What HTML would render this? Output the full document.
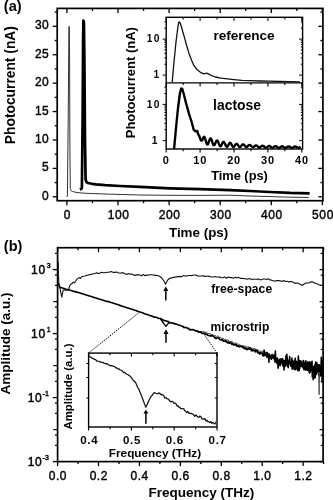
<!DOCTYPE html>
<html><head><meta charset="utf-8"><style>
html,body{margin:0;padding:0;background:#fff;}
body{width:333px;height:500px;overflow:hidden;}
svg{display:block;}
text{font-family:'Liberation Sans', Arial, Helvetica, sans-serif;fill:#000;}
</style></head><body>
<svg width="333" height="500" viewBox="0 0 333 500">
<rect width="333" height="500" fill="#fff"/>
<g stroke="#000" fill="none" stroke-linecap="butt">
<rect x="57.2" y="8.4" width="265.7" height="192.3" stroke-width="1.7"/>
<line x1="66.9" y1="200.7" x2="66.9" y2="205.2" stroke-width="1.3"/>
<line x1="66.9" y1="8.4" x2="66.9" y2="12.9" stroke-width="1.3"/>
<line x1="92.45" y1="200.7" x2="92.45" y2="203.2" stroke-width="1.3"/>
<line x1="92.45" y1="8.4" x2="92.45" y2="10.9" stroke-width="1.3"/>
<line x1="118" y1="200.7" x2="118" y2="205.2" stroke-width="1.3"/>
<line x1="118" y1="8.4" x2="118" y2="12.9" stroke-width="1.3"/>
<line x1="143.55" y1="200.7" x2="143.55" y2="203.2" stroke-width="1.3"/>
<line x1="143.55" y1="8.4" x2="143.55" y2="10.9" stroke-width="1.3"/>
<line x1="169.1" y1="200.7" x2="169.1" y2="205.2" stroke-width="1.3"/>
<line x1="169.1" y1="8.4" x2="169.1" y2="12.9" stroke-width="1.3"/>
<line x1="194.65" y1="200.7" x2="194.65" y2="203.2" stroke-width="1.3"/>
<line x1="194.65" y1="8.4" x2="194.65" y2="10.9" stroke-width="1.3"/>
<line x1="220.2" y1="200.7" x2="220.2" y2="205.2" stroke-width="1.3"/>
<line x1="220.2" y1="8.4" x2="220.2" y2="12.9" stroke-width="1.3"/>
<line x1="245.75" y1="200.7" x2="245.75" y2="203.2" stroke-width="1.3"/>
<line x1="245.75" y1="8.4" x2="245.75" y2="10.9" stroke-width="1.3"/>
<line x1="271.3" y1="200.7" x2="271.3" y2="205.2" stroke-width="1.3"/>
<line x1="271.3" y1="8.4" x2="271.3" y2="12.9" stroke-width="1.3"/>
<line x1="296.85" y1="200.7" x2="296.85" y2="203.2" stroke-width="1.3"/>
<line x1="296.85" y1="8.4" x2="296.85" y2="10.9" stroke-width="1.3"/>
<line x1="322.4" y1="200.7" x2="322.4" y2="205.2" stroke-width="1.3"/>
<line x1="322.4" y1="8.4" x2="322.4" y2="12.9" stroke-width="1.3"/>
<line x1="52.7" y1="196.8" x2="57.2" y2="196.8" stroke-width="1.3"/>
<line x1="318.4" y1="196.8" x2="322.9" y2="196.8" stroke-width="1.3"/>
<line x1="54.7" y1="182.59" x2="57.2" y2="182.59" stroke-width="1.3"/>
<line x1="320.4" y1="182.59" x2="322.9" y2="182.59" stroke-width="1.3"/>
<line x1="52.7" y1="168.39" x2="57.2" y2="168.39" stroke-width="1.3"/>
<line x1="318.4" y1="168.39" x2="322.9" y2="168.39" stroke-width="1.3"/>
<line x1="54.7" y1="154.18" x2="57.2" y2="154.18" stroke-width="1.3"/>
<line x1="320.4" y1="154.18" x2="322.9" y2="154.18" stroke-width="1.3"/>
<line x1="52.7" y1="139.97" x2="57.2" y2="139.97" stroke-width="1.3"/>
<line x1="318.4" y1="139.97" x2="322.9" y2="139.97" stroke-width="1.3"/>
<line x1="54.7" y1="125.76" x2="57.2" y2="125.76" stroke-width="1.3"/>
<line x1="320.4" y1="125.76" x2="322.9" y2="125.76" stroke-width="1.3"/>
<line x1="52.7" y1="111.56" x2="57.2" y2="111.56" stroke-width="1.3"/>
<line x1="318.4" y1="111.56" x2="322.9" y2="111.56" stroke-width="1.3"/>
<line x1="54.7" y1="97.35" x2="57.2" y2="97.35" stroke-width="1.3"/>
<line x1="320.4" y1="97.35" x2="322.9" y2="97.35" stroke-width="1.3"/>
<line x1="52.7" y1="83.14" x2="57.2" y2="83.14" stroke-width="1.3"/>
<line x1="318.4" y1="83.14" x2="322.9" y2="83.14" stroke-width="1.3"/>
<line x1="54.7" y1="68.93" x2="57.2" y2="68.93" stroke-width="1.3"/>
<line x1="320.4" y1="68.93" x2="322.9" y2="68.93" stroke-width="1.3"/>
<line x1="52.7" y1="54.73" x2="57.2" y2="54.73" stroke-width="1.3"/>
<line x1="318.4" y1="54.73" x2="322.9" y2="54.73" stroke-width="1.3"/>
<line x1="54.7" y1="40.52" x2="57.2" y2="40.52" stroke-width="1.3"/>
<line x1="320.4" y1="40.52" x2="322.9" y2="40.52" stroke-width="1.3"/>
<line x1="52.7" y1="26.31" x2="57.2" y2="26.31" stroke-width="1.3"/>
<line x1="318.4" y1="26.31" x2="322.9" y2="26.31" stroke-width="1.3"/>
<line x1="54.7" y1="12.1" x2="57.2" y2="12.1" stroke-width="1.3"/>
<line x1="320.4" y1="12.1" x2="322.9" y2="12.1" stroke-width="1.3"/>
</g>
<polyline points="66.6,197 67.4,196 68.2,120 68.9,27 69.3,26.3 69.6,60 69.9,150 70.3,188.5 71.2,190.8 72.5,191.5 76,192.3 80,192.9 88,193.4 96,193.7 110,194.2 125,194.6 140,195 170,195.3 200,195.4 230,195.2 250,196 270,196.6 290,197.2 308.7,197.5" fill="none" stroke-width="1" stroke-linejoin="round" stroke="#333"/>
<polyline points="79.8,189.4 81.3,189 81.9,187.8 82.6,120 83.1,40 83.4,20.6 83.9,22 84.4,60 85,140 85.6,179.5 86.4,182 88,183 92,183.8 96,184.3 105,185.1 120,186 140,186.9 170,188.3 200,189.2 230,190.1 250,191 270,192 290,192.9 309.6,193.3" fill="none" stroke-width="2.7" stroke-linejoin="round" stroke="#000"/>
<g stroke="#000" fill="none">
<rect x="166.2" y="17.3" width="136.4" height="131.7" stroke-width="1.4"/>
<line x1="166.2" y1="82.9" x2="302.6" y2="82.9" stroke-width="1.4"/>
<line x1="166.2" y1="149" x2="166.2" y2="152.5" stroke-width="1.1"/>
<line x1="166.2" y1="17.3" x2="166.2" y2="20.8" stroke-width="1.1"/>
<line x1="166.2" y1="82.9" x2="166.2" y2="86.4" stroke-width="1.1"/>
<line x1="183.15" y1="149" x2="183.15" y2="151.2" stroke-width="1.1"/>
<line x1="183.15" y1="17.3" x2="183.15" y2="19.5" stroke-width="1.1"/>
<line x1="183.15" y1="82.9" x2="183.15" y2="85.1" stroke-width="1.1"/>
<line x1="200.1" y1="149" x2="200.1" y2="152.5" stroke-width="1.1"/>
<line x1="200.1" y1="17.3" x2="200.1" y2="20.8" stroke-width="1.1"/>
<line x1="200.1" y1="82.9" x2="200.1" y2="86.4" stroke-width="1.1"/>
<line x1="217.05" y1="149" x2="217.05" y2="151.2" stroke-width="1.1"/>
<line x1="217.05" y1="17.3" x2="217.05" y2="19.5" stroke-width="1.1"/>
<line x1="217.05" y1="82.9" x2="217.05" y2="85.1" stroke-width="1.1"/>
<line x1="234" y1="149" x2="234" y2="152.5" stroke-width="1.1"/>
<line x1="234" y1="17.3" x2="234" y2="20.8" stroke-width="1.1"/>
<line x1="234" y1="82.9" x2="234" y2="86.4" stroke-width="1.1"/>
<line x1="250.95" y1="149" x2="250.95" y2="151.2" stroke-width="1.1"/>
<line x1="250.95" y1="17.3" x2="250.95" y2="19.5" stroke-width="1.1"/>
<line x1="250.95" y1="82.9" x2="250.95" y2="85.1" stroke-width="1.1"/>
<line x1="267.9" y1="149" x2="267.9" y2="152.5" stroke-width="1.1"/>
<line x1="267.9" y1="17.3" x2="267.9" y2="20.8" stroke-width="1.1"/>
<line x1="267.9" y1="82.9" x2="267.9" y2="86.4" stroke-width="1.1"/>
<line x1="284.85" y1="149" x2="284.85" y2="151.2" stroke-width="1.1"/>
<line x1="284.85" y1="17.3" x2="284.85" y2="19.5" stroke-width="1.1"/>
<line x1="284.85" y1="82.9" x2="284.85" y2="85.1" stroke-width="1.1"/>
<line x1="301.8" y1="149" x2="301.8" y2="152.5" stroke-width="1.1"/>
<line x1="301.8" y1="17.3" x2="301.8" y2="20.8" stroke-width="1.1"/>
<line x1="301.8" y1="82.9" x2="301.8" y2="86.4" stroke-width="1.1"/>
<line x1="162.7" y1="75.1" x2="166.2" y2="75.1" stroke-width="1"/>
<line x1="299.1" y1="75.1" x2="302.6" y2="75.1" stroke-width="1"/>
<line x1="164.4" y1="64.26" x2="166.2" y2="64.26" stroke-width="1"/>
<line x1="300.8" y1="64.26" x2="302.6" y2="64.26" stroke-width="1"/>
<line x1="164.4" y1="57.92" x2="166.2" y2="57.92" stroke-width="1"/>
<line x1="300.8" y1="57.92" x2="302.6" y2="57.92" stroke-width="1"/>
<line x1="164.4" y1="53.43" x2="166.2" y2="53.43" stroke-width="1"/>
<line x1="300.8" y1="53.43" x2="302.6" y2="53.43" stroke-width="1"/>
<line x1="164.4" y1="49.94" x2="166.2" y2="49.94" stroke-width="1"/>
<line x1="300.8" y1="49.94" x2="302.6" y2="49.94" stroke-width="1"/>
<line x1="164.4" y1="47.09" x2="166.2" y2="47.09" stroke-width="1"/>
<line x1="300.8" y1="47.09" x2="302.6" y2="47.09" stroke-width="1"/>
<line x1="164.4" y1="44.68" x2="166.2" y2="44.68" stroke-width="1"/>
<line x1="300.8" y1="44.68" x2="302.6" y2="44.68" stroke-width="1"/>
<line x1="164.4" y1="42.59" x2="166.2" y2="42.59" stroke-width="1"/>
<line x1="300.8" y1="42.59" x2="302.6" y2="42.59" stroke-width="1"/>
<line x1="164.4" y1="40.75" x2="166.2" y2="40.75" stroke-width="1"/>
<line x1="300.8" y1="40.75" x2="302.6" y2="40.75" stroke-width="1"/>
<line x1="162.7" y1="39.1" x2="166.2" y2="39.1" stroke-width="1"/>
<line x1="299.1" y1="39.1" x2="302.6" y2="39.1" stroke-width="1"/>
<line x1="164.4" y1="28.26" x2="166.2" y2="28.26" stroke-width="1"/>
<line x1="300.8" y1="28.26" x2="302.6" y2="28.26" stroke-width="1"/>
<line x1="164.4" y1="21.92" x2="166.2" y2="21.92" stroke-width="1"/>
<line x1="300.8" y1="21.92" x2="302.6" y2="21.92" stroke-width="1"/>
<line x1="162.7" y1="140.6" x2="166.2" y2="140.6" stroke-width="1"/>
<line x1="299.1" y1="140.6" x2="302.6" y2="140.6" stroke-width="1"/>
<line x1="164.4" y1="129.7" x2="166.2" y2="129.7" stroke-width="1"/>
<line x1="300.8" y1="129.7" x2="302.6" y2="129.7" stroke-width="1"/>
<line x1="164.4" y1="123.33" x2="166.2" y2="123.33" stroke-width="1"/>
<line x1="300.8" y1="123.33" x2="302.6" y2="123.33" stroke-width="1"/>
<line x1="164.4" y1="118.81" x2="166.2" y2="118.81" stroke-width="1"/>
<line x1="300.8" y1="118.81" x2="302.6" y2="118.81" stroke-width="1"/>
<line x1="164.4" y1="115.3" x2="166.2" y2="115.3" stroke-width="1"/>
<line x1="300.8" y1="115.3" x2="302.6" y2="115.3" stroke-width="1"/>
<line x1="164.4" y1="112.43" x2="166.2" y2="112.43" stroke-width="1"/>
<line x1="300.8" y1="112.43" x2="302.6" y2="112.43" stroke-width="1"/>
<line x1="164.4" y1="110.01" x2="166.2" y2="110.01" stroke-width="1"/>
<line x1="300.8" y1="110.01" x2="302.6" y2="110.01" stroke-width="1"/>
<line x1="164.4" y1="107.91" x2="166.2" y2="107.91" stroke-width="1"/>
<line x1="300.8" y1="107.91" x2="302.6" y2="107.91" stroke-width="1"/>
<line x1="164.4" y1="106.06" x2="166.2" y2="106.06" stroke-width="1"/>
<line x1="300.8" y1="106.06" x2="302.6" y2="106.06" stroke-width="1"/>
<line x1="162.7" y1="104.4" x2="166.2" y2="104.4" stroke-width="1"/>
<line x1="299.1" y1="104.4" x2="302.6" y2="104.4" stroke-width="1"/>
<line x1="164.4" y1="93.5" x2="166.2" y2="93.5" stroke-width="1"/>
<line x1="300.8" y1="93.5" x2="302.6" y2="93.5" stroke-width="1"/>
<line x1="164.4" y1="87.13" x2="166.2" y2="87.13" stroke-width="1"/>
<line x1="300.8" y1="87.13" x2="302.6" y2="87.13" stroke-width="1"/>
</g>
<polyline points="172.2,82.2 174,62 176,42 178,26 178.9,21.8 180,22.5 182,29 184.2,36.6 186.5,45 189,53.4 191.5,60 193.8,65.4 197,69.5 201,72.7 204,73.8 206.5,73.2 208.5,73.9 211,75.3 215.4,77 221,78.1 227.5,78.9 234,79.6 241.9,80.3 250,80.6 260,81 270,81.2 280,81.5 290,81.6 300,81.8" fill="none" stroke-width="1.3" stroke-linejoin="round" stroke="#111"/>
<polyline points="174.1,148.8 176,128 178,108 180,93 181.3,88.4 182.5,89.5 184,95 186,103 189,113.8 191.5,121.5 193.8,130 195.5,131.3 197.3,131 198,134 198.6,134.7 199.2,135.81 199.8,137.34 200.4,139.04 201,140.42 201.6,140.72 202.2,140.16 202.8,138.92 203.4,137.53 204,136.69 204.6,137.16 205.2,138.72 205.8,140.87 206.4,142.93 207,144.26 207.6,144.49 208.2,143.61 208.8,141.98 209.4,140.17 210,138.81 210.6,138.35 211.2,138.95 211.8,140.44 212.4,142.35 213,144.09 213.6,145.16 214.2,145.29 214.8,144.51 215.4,143.14 216,141.7 216.6,140.72 217.2,140.53 217.8,141.25 218.4,142.6 219,144.2 219.6,145.59 220.2,146.34 220.8,146.25 221.4,145.39 222,144.08 222.6,142.77 223.2,141.92 223.8,141.82 224.4,142.51 225,143.77 225.6,145.18 226.2,146.32 226.8,146.84 227.4,146.61 228,145.74 228.6,144.55 229.2,143.45 229.8,142.81 230.4,142.83 231,143.51 231.6,144.63 232.2,145.81 232.8,146.68 233.4,147 234,146.7 234.6,145.93 235.2,144.97 235.8,144.17 236.4,143.78 237,143.92 237.6,144.54 238.2,145.4 238.8,146.24 239.4,146.83 240,146.99 240.6,146.69 241.2,146.04 241.8,145.28 242.4,144.65 243,144.37 243.6,144.52 244.2,145.05 244.8,145.77 245.4,146.47 246,146.91 246.6,146.98 247.2,146.67 247.8,146.11 248.4,145.5 249,145.04 249.6,144.88 250.2,145.08 250.8,145.54 251.4,146.15 252,146.71 252.6,147.06 253.2,147.09 253.8,146.82 254.4,146.35 255,145.83 255.6,145.47 256.2,145.38 256.8,145.6 257.4,146.08 258,146.67 258.6,147.19 259.2,147.49 259.8,147.47 260.4,147.15 261,146.65 261.6,146.14 262.2,145.8 262.8,145.74 263.4,145.99 264,146.46 264.6,147 265.2,147.45 265.8,147.66 266.4,147.57 267,147.22 267.6,146.72 268.2,146.25 268.8,145.97 269.4,145.96 270,146.24 270.6,146.71 271.2,147.24 271.8,147.64 272.4,147.79 273,147.66 273.6,147.29 274.2,146.81 274.8,146.38 275.4,146.14 276,146.19 276.6,146.49 277.2,146.97 277.8,147.46 278.4,147.81 279,147.91 279.6,147.74 280.2,147.36 280.8,146.89 281.4,146.49 282,146.3 282.6,146.37 283.2,146.69 283.8,147.14 284.4,147.58 285,147.87 285.6,147.91 286.2,147.7 286.8,147.3 287.4,146.86 288,146.5 288.6,146.36 289.2,146.47 289.8,146.8 290.4,147.24 291,147.65 291.6,147.88 292.2,147.88 292.8,147.65 293.4,147.25 294,146.84 294.6,146.53 295.2,146.44 295.8,146.58 296.4,146.92 297,147.34 297.6,147.7 298.2,147.89 298.8,147.85 299.4,147.6 300,147.21 300.6,146.83" fill="none" stroke-width="2.4" stroke-linejoin="round" stroke="#000"/>
<g stroke="#000" fill="none">
<rect x="57.6" y="247.7" width="265.5" height="213.9" stroke-width="1.7"/>
<line x1="57.6" y1="461.6" x2="57.6" y2="466.1" stroke-width="1.3"/>
<line x1="57.6" y1="247.7" x2="57.6" y2="252.2" stroke-width="1.3"/>
<line x1="78.06" y1="461.6" x2="78.06" y2="464.1" stroke-width="1.3"/>
<line x1="78.06" y1="247.7" x2="78.06" y2="250.2" stroke-width="1.3"/>
<line x1="98.52" y1="461.6" x2="98.52" y2="466.1" stroke-width="1.3"/>
<line x1="98.52" y1="247.7" x2="98.52" y2="252.2" stroke-width="1.3"/>
<line x1="118.98" y1="461.6" x2="118.98" y2="464.1" stroke-width="1.3"/>
<line x1="118.98" y1="247.7" x2="118.98" y2="250.2" stroke-width="1.3"/>
<line x1="139.44" y1="461.6" x2="139.44" y2="466.1" stroke-width="1.3"/>
<line x1="139.44" y1="247.7" x2="139.44" y2="252.2" stroke-width="1.3"/>
<line x1="159.9" y1="461.6" x2="159.9" y2="464.1" stroke-width="1.3"/>
<line x1="159.9" y1="247.7" x2="159.9" y2="250.2" stroke-width="1.3"/>
<line x1="180.36" y1="461.6" x2="180.36" y2="466.1" stroke-width="1.3"/>
<line x1="180.36" y1="247.7" x2="180.36" y2="252.2" stroke-width="1.3"/>
<line x1="200.82" y1="461.6" x2="200.82" y2="464.1" stroke-width="1.3"/>
<line x1="200.82" y1="247.7" x2="200.82" y2="250.2" stroke-width="1.3"/>
<line x1="221.28" y1="461.6" x2="221.28" y2="466.1" stroke-width="1.3"/>
<line x1="221.28" y1="247.7" x2="221.28" y2="252.2" stroke-width="1.3"/>
<line x1="241.74" y1="461.6" x2="241.74" y2="464.1" stroke-width="1.3"/>
<line x1="241.74" y1="247.7" x2="241.74" y2="250.2" stroke-width="1.3"/>
<line x1="262.2" y1="461.6" x2="262.2" y2="466.1" stroke-width="1.3"/>
<line x1="262.2" y1="247.7" x2="262.2" y2="252.2" stroke-width="1.3"/>
<line x1="282.66" y1="461.6" x2="282.66" y2="464.1" stroke-width="1.3"/>
<line x1="282.66" y1="247.7" x2="282.66" y2="250.2" stroke-width="1.3"/>
<line x1="303.12" y1="461.6" x2="303.12" y2="466.1" stroke-width="1.3"/>
<line x1="303.12" y1="247.7" x2="303.12" y2="252.2" stroke-width="1.3"/>
<line x1="323.58" y1="461.6" x2="323.58" y2="464.1" stroke-width="1.3"/>
<line x1="323.58" y1="247.7" x2="323.58" y2="250.2" stroke-width="1.3"/>
<line x1="52.8" y1="461.6" x2="57.6" y2="461.6" stroke-width="1.3"/>
<line x1="319.6" y1="461.6" x2="323.1" y2="461.6" stroke-width="1.3"/>
<line x1="53.4" y1="429.6" x2="57.6" y2="429.6" stroke-width="1.3"/>
<line x1="319.6" y1="429.6" x2="323.1" y2="429.6" stroke-width="1.3"/>
<line x1="55" y1="435.1" x2="57.6" y2="435.1" stroke-width="1.3"/>
<line x1="320.7" y1="435.1" x2="323.1" y2="435.1" stroke-width="1.2"/>
<line x1="55" y1="445.4" x2="57.6" y2="445.4" stroke-width="1.3"/>
<line x1="320.7" y1="445.4" x2="323.1" y2="445.4" stroke-width="1.2"/>
<line x1="52.8" y1="397.6" x2="57.6" y2="397.6" stroke-width="1.3"/>
<line x1="319.6" y1="397.6" x2="323.1" y2="397.6" stroke-width="1.3"/>
<line x1="55" y1="403.1" x2="57.6" y2="403.1" stroke-width="1.3"/>
<line x1="320.7" y1="403.1" x2="323.1" y2="403.1" stroke-width="1.2"/>
<line x1="55" y1="413.4" x2="57.6" y2="413.4" stroke-width="1.3"/>
<line x1="320.7" y1="413.4" x2="323.1" y2="413.4" stroke-width="1.2"/>
<line x1="53.4" y1="365.6" x2="57.6" y2="365.6" stroke-width="1.3"/>
<line x1="319.6" y1="365.6" x2="323.1" y2="365.6" stroke-width="1.3"/>
<line x1="55" y1="371.1" x2="57.6" y2="371.1" stroke-width="1.3"/>
<line x1="320.7" y1="371.1" x2="323.1" y2="371.1" stroke-width="1.2"/>
<line x1="55" y1="381.4" x2="57.6" y2="381.4" stroke-width="1.3"/>
<line x1="320.7" y1="381.4" x2="323.1" y2="381.4" stroke-width="1.2"/>
<line x1="52.8" y1="333.6" x2="57.6" y2="333.6" stroke-width="1.3"/>
<line x1="319.6" y1="333.6" x2="323.1" y2="333.6" stroke-width="1.3"/>
<line x1="55" y1="339.1" x2="57.6" y2="339.1" stroke-width="1.3"/>
<line x1="320.7" y1="339.1" x2="323.1" y2="339.1" stroke-width="1.2"/>
<line x1="55" y1="349.4" x2="57.6" y2="349.4" stroke-width="1.3"/>
<line x1="320.7" y1="349.4" x2="323.1" y2="349.4" stroke-width="1.2"/>
<line x1="53.4" y1="301.6" x2="57.6" y2="301.6" stroke-width="1.3"/>
<line x1="319.6" y1="301.6" x2="323.1" y2="301.6" stroke-width="1.3"/>
<line x1="55" y1="307.1" x2="57.6" y2="307.1" stroke-width="1.3"/>
<line x1="320.7" y1="307.1" x2="323.1" y2="307.1" stroke-width="1.2"/>
<line x1="55" y1="317.4" x2="57.6" y2="317.4" stroke-width="1.3"/>
<line x1="320.7" y1="317.4" x2="323.1" y2="317.4" stroke-width="1.2"/>
<line x1="52.8" y1="269.6" x2="57.6" y2="269.6" stroke-width="1.3"/>
<line x1="319.6" y1="269.6" x2="323.1" y2="269.6" stroke-width="1.3"/>
<line x1="55" y1="275.1" x2="57.6" y2="275.1" stroke-width="1.3"/>
<line x1="320.7" y1="275.1" x2="323.1" y2="275.1" stroke-width="1.2"/>
<line x1="55" y1="285.4" x2="57.6" y2="285.4" stroke-width="1.3"/>
<line x1="320.7" y1="285.4" x2="323.1" y2="285.4" stroke-width="1.2"/>
<line x1="55" y1="253.4" x2="57.6" y2="253.4" stroke-width="1.3"/>
<line x1="320.7" y1="253.4" x2="323.1" y2="253.4" stroke-width="1.2"/>
</g>
<polyline points="58.2,262 58.4,272 58.7,281 59.3,286.5 60.2,289.2 61,293.5 61.8,297.2 62.5,293.5 63.2,290.3 64.5,289.7 66,290.3 68.6,290 69.6,286 70.5,284.5 71.8,283.8 73.2,282 74.5,282.7 76,280.5 77.5,278.6 79,277.6 80.5,278.4 82,276.5 85,276 88,275 91,274.4 93,273.72 95,273.6 96.67,272.87 98.33,273.51 100,273.1 101.67,272.25 103.33,272.82 105,272.6 107,272.19 109,272.2 111,271.56 113,272.35 115,272.4 116.67,271.93 118.33,272.83 120,273.2 121.67,272.7 123.33,272.91 125,273.63 126.67,274.46 128.33,273.51 130,274.3 131.67,273.97 133.33,274.74 135,275.37 136.67,274.89 138.33,274.72 140,275 141.6,275.82 143.2,274.39 144.8,275.75 146.4,274.9 148,275.3 149.75,274.76 151.5,274.74 153.25,275.07 155,275.4 157.2,275.4 159.5,276.3 161.5,277.8 163.3,280 164.6,282.2 165.6,284.2 166.5,282.2 167.7,280 169.3,278.5 171.5,277.9 175,277.1 180,276.4 181.67,276.76 183.33,275.59 185,276.08 186.67,276.02 188.33,275.45 190,275.5 191.67,275.66 193.33,274.97 195,275.05 196.67,275.36 198.33,276.21 200,276 201.67,275.97 203.33,275.87 205,276.39 206.67,276.26 208.33,276.1 210,276.5 211.6,277.07 213.2,277.02 214.8,276.39 216.4,277.02 218,277 219.71,277.13 221.43,277.77 223.14,277.62 224.86,277 226.57,278.2 228.29,276.9 230,277.6 231.71,277.55 233.43,278.18 235.14,277.3 236.86,277.93 238.57,277.29 240.29,278.38 242,278.2 243.83,278.79 245.67,278.65 247.5,279.3 249.33,278.57 251.17,279.35 253,279.2 254.71,279.32 256.43,279.27 258.14,279.04 259.86,279.63 261.57,279.77 263.29,278.99 265,279 266.71,279.49 268.43,278.75 270.14,280.01 271.86,280.15 273.57,280.93 275.29,280.89 277,280.6 278.71,280.44 280.43,280.79 282.14,281.43 283.86,280.58 285.57,281.47 287.29,281.18 289,281.9 290.75,281.56 292.5,281.74 294.25,283.15 296,283 298.1,283.21 300.2,284.2 302.3,285.4 304.15,284.03 306,283 308.35,283.04 310.7,281.9 312.47,281.76 314.23,282.89 316,283.5 317.68,284.03 319.35,285.01 321.02,285.36 322.7,285.3" fill="none" stroke-width="1.1" stroke-linejoin="round" stroke="#111"/>
<polyline points="58.3,283.5 59.1,285.24 59.9,286.98 60.7,287.44 61.5,287.71 62.3,287.98 63.1,288.25 63.9,288.53 64.7,288.8 65.5,289.03 66.3,289.24 67.1,289.45 67.9,289.65 68.7,289.86 69.5,290.07 70.3,290.28 71.1,290.51 71.9,290.73 72.7,290.96 73.5,291.18 74.3,291.4 75.1,291.63 75.9,291.87 76.7,292.11 77.5,292.35 78.3,292.59 79.1,292.83 79.9,293.07 80.7,293.31 81.5,293.55 82.3,293.79 83.1,294.03 83.9,294.27 84.7,294.51 85.5,294.76 86.3,295.01 87.1,295.26 87.9,295.51 88.7,295.76 89.5,296.01 90.3,296.26 91.1,296.51 91.9,296.76 92.7,297.01 93.5,297.26 94.3,297.51 95.1,297.76 95.9,298.02 96.7,298.27 97.5,298.52 98.3,298.77 99.1,299.02 99.9,299.27 100.7,299.51 101.5,299.74 102.3,299.97 103.1,300.21 103.9,300.44 104.7,300.68 105.5,300.91 106.3,301.15 107.1,301.38 107.9,301.62 108.7,301.85 109.5,302.09 110.3,302.32 111.1,302.56 111.9,302.79 112.7,303.03 113.5,303.26 114.3,303.49 115.1,303.73 115.9,304.01 116.7,304.28 117.5,304.55 118.3,304.82 119.1,305.09 119.9,305.37 120.7,305.63 121.5,305.89 122.3,306.15 123.1,306.42 123.9,306.68 124.7,306.94 125.5,307.2 126.3,307.47 127.1,307.73 127.9,307.99 128.7,308.25 129.5,308.52 130.3,308.78 131.1,309.04 131.9,309.3 132.7,309.57 133.5,309.83 134.3,310.09 135.1,310.35 135.9,310.61 136.7,310.88 137.5,311.14 138.3,311.4 139.1,311.68 139.9,311.97 140.7,312.25 141.5,312.54 142.3,312.83 143.1,313.12 143.9,313.4 144.7,313.69 145.5,313.97 146.3,314.23 147.1,314.5 147.9,314.77 148.7,315.03 149.5,315.3 150.3,315.82 151.1,315.68 151.9,316.04 152.7,316.26 153.5,316.92 154.3,317.24 155.1,316.9 155.9,317.18 156.7,317.49 157.5,317.76 158.3,318.22 159.1,318.57 159.9,318.57 160.7,318.62 161.5,319.24 162.3,319.48 163.1,319.93 163.9,320.54 164.7,320.6 165.5,320.73 166.3,321.1 167.1,321.44 167.9,321.15 168.7,322.21 169.5,322.39 170.3,322.76 171.1,322.97 171.9,322.86 172.7,323.15 173.5,323.14 174.3,323.94 175.1,323.65 175.9,323.93 176.7,324.35 177.5,324.58 178.3,325.04 179.1,325.02 179.9,325.24 180.7,325.67 181.5,325.9 182.3,326.46 183.1,326.36 183.9,327.58 184.7,327.57 185.5,327.33 186.3,327.72 187.1,328.11 187.9,328.41 188.7,328.41 189.5,329.53 190.3,329.96 191.1,329.55 191.9,329.77 192.7,329.5 193.5,329.72 194.3,330.22 195.1,330.34 195.9,331.3 196.7,330.71 197.5,330.79 198.3,332.22 199.1,331.93 199.9,331.69 200.7,332.46 201.2,331.94 201.7,332.76 202.2,333.51 202.7,333.52 203.2,333.46 203.7,333.03 204.2,333.33 204.7,333.22 205.2,334.2 205.7,334.03 206.2,334.53 206.7,334.07 207.2,334.09 207.7,335.08 208.2,335.51 208.7,335.5 209.2,335.62 209.7,335.82 210.2,335.89 210.7,335.34 211.2,335.93 211.7,335.88 212.2,335.58 212.7,335.76 213.2,336.3 213.7,336.45 214.2,337.26 214.7,337.83 215.2,337.26 215.7,338.17 216.2,338.43 216.7,338.56 217.2,337.85 217.7,337.81 218.2,338 218.7,338.13 219.2,338.32 219.7,339.16 220.2,339.78 220.7,339.88 221.2,339.51 221.7,339.97 222.2,340.4 222.7,339.47 223.2,340.56 223.7,341.15 224.2,341.14 224.7,341.28 225.2,341.04 225.7,340.75 226.2,341.93 226.7,341.38 227.2,342.33 227.7,342.8 228.2,342.06 228.7,342.26 229.2,343.35 229.7,343.17 230.2,342.44 230.7,342.56 231.2,342.78 231.7,344.22 232.2,344.23 232.7,343.28 233.2,344.61 233.7,345.04 234.2,344.66 234.7,344.31 235.2,344.82 235.7,344.27 236.2,344.23 236.7,346.07 237.2,345.68 237.7,345.64 238.2,346.52 238.7,345.81 239.2,346.76 239.7,346.85 240.2,345.92 240.7,346.14 241.2,346.38 241.7,346.43 242.2,347.31 242.7,346.77 243.2,347.27 243.7,346.74 244.2,348.72 244.7,347.52 245.2,347.92 245.7,348.38 246.2,349.39 246.7,348.23 247.2,349.76 247.7,348.74 248.2,348.97 248.7,349.09 249.2,347.67 249.7,349.11 250.2,348.42 250.7,347.95 251.2,350.73 251.7,348.74 252.2,349.91 252.7,350.95 253.2,350.5 253.7,349.78 254.2,350.64 254.7,350.93 255.2,351.98 255.7,349.46 256.2,351.45 256.7,350.33 257.2,350.59 257.7,352.86 258.2,351.9 258.7,352.31 259.2,353.37 259.7,354.25 260.2,352.27 260.7,353.23 261.2,352.89 261.7,353.09 262.2,354.15 262.48,353.46 262.76,355.59 263.04,355.37 263.32,352.36 263.6,355.93 263.88,351.89 264.16,350.18 264.44,353.57 264.72,353 265,355.6 265.28,354.99 265.56,352.99 265.84,354.24 266.12,352.29 266.4,352.75 266.68,353.16 266.96,357.54 267.24,354.47 267.52,352.74 267.8,354.26 268.08,356.48 268.36,355.55 268.64,354.48 268.92,362.27 269.2,354.5 269.48,354.09 269.76,358.02 270.04,357.3 270.32,355.81 270.6,356.6 270.88,355.58 271.16,358.62 271.44,359.36 271.72,358.08 272,354.56 272.28,354.51 272.56,357.14 272.84,357.92 273.12,356.18 273.4,358.02 273.68,355.37 273.96,355.09 274.24,356.97 274.52,360.14 274.8,358.51 275.08,362.08 275.36,351.13 275.64,359.15 275.92,358.87 276.2,360.5 276.48,359.96 276.76,363.2 277.04,357.98 277.32,358.04 277.6,362.09 277.88,364.21 278.16,368.1 278.44,365.32 278.72,363.97 279,359.76 279.28,360.03 279.56,359.19 279.84,360.18 280.12,365.82 280.4,360.4 280.68,361.09 280.96,358.86 281.24,362.65 281.52,360.53 281.8,359.01 282.08,359.72 282.36,364.6 282.64,358.89 282.92,364.45 283.2,366.32 283.48,361.84 283.76,360.42 284.04,369.98 284.32,365.38 284.6,360.44 284.88,363.57 285.16,366.18 285.44,364.36 285.72,365.26 286,355.8 286.28,364.99 286.56,362.77 286.84,354.26 287.12,358.13 287.4,366.21 287.68,364.38 287.96,360.23 288.24,367.79 288.52,361.82 288.8,361.83 289.08,363.96 289.36,360.49 289.64,356.48 289.92,360.57 290.2,362.23 290.48,362.72 290.76,366.11 291.04,362.94 291.32,366.31 291.6,364.83 291.88,358.16 292.16,369.18 292.44,360.1 292.72,367.91 293,364.34 293.28,362.02 293.56,362.04 293.84,361.38 294.12,369.45 294.4,368.18 294.68,368.89 294.96,362.34 295.24,358.36 295.52,369.68 295.8,364.17 296.08,364.31 296.36,361.3 296.64,363.42 296.92,364.2 297.2,368.9 297.48,369.55 297.76,370.6 298.04,363.91 298.32,356.13 298.6,360.67 298.88,366.92 299.16,370.57 299.44,363.55 299.72,368.66 300,360.48 300.28,364.55 300.56,366.28 300.84,361.11 301.12,364.79 301.4,361.81 301.68,365.71 301.96,366.47 302.24,365 302.52,363.25 302.8,367.78 303.08,363.12 303.36,360.64 303.64,361.31 303.92,369.82 304.2,365.73 304.48,369.32 304.76,366.92 305.04,362.6 305.32,364.33 305.6,370.14 305.88,360.87 306.16,365.2 306.44,363.18 306.72,369.69 307,367.61 307.28,369.01 307.56,370.32 307.84,361.91 308.12,365.49 308.4,366.11 308.68,370.85 308.96,362.44 309.24,370.34 309.52,372.93 309.8,361.85 310.08,372.57 310.36,366.88 310.64,370.91 310.92,363.02 311.2,362.52 311.48,370.09 311.76,364.35 312.04,361.28 312.32,376.98 312.6,373.76 312.88,368.22 313.16,379.79 313.44,368.3 313.72,366.59 314,377.97 314.28,374.71 314.56,365.82 314.84,364.89 315.12,377.64 315.4,371.17 315.68,362.1 315.96,370.91 316.24,365.35 316.52,374.44 316.8,362.43 317.08,367.73 317.36,364.72 317.64,372.15 317.92,364.85 318.2,366.34 318.48,365.25 318.76,372.62 319.04,375.33 319.32,364.7 319.6,367.94 319.88,375.45 320.16,367.67 320.44,375.91 320.72,372.1 321,368.55 321.28,357.36 321.56,375.52 321.84,364.84 322.12,382.32 322.4,374.34 322.68,359.2" fill="none" stroke-width="1.6" stroke-linejoin="round" stroke="#000"/>
<polyline points="203,331.17 203.7,331.48 204.4,332.42 205.1,331.65 205.8,332.88 206.5,332.19 207.2,332.6 207.9,333.41 208.6,333.66 209.3,333.44 210,333.23 210.7,333.99 211.4,334.12 212.1,335.03 212.8,334.41 213.5,334.87 214.2,335.76 214.9,334.97 215.6,335.67 216.3,336.41 217,336.6 217.7,335.98 218.4,336.23 219.1,336.51 219.8,337.81 220.5,337.28 221.2,338.14 221.9,338.59 222.6,338.19 223.3,338.38 224,339.47 224.7,339.33 225.4,339.17 226.1,339.98 226.8,339.77 227.5,339.99 228.2,339.93 228.9,341.1 229.6,341.56 230.3,341.49 231,342.13 231.7,341.27 232.4,341.76 233.1,342.29 233.8,343.1 234.5,343.34 235.2,342.9 235.9,342.98 236.6,343.43 237.3,343.74 238,344.51 238.7,343.85 239.4,344.83 240.1,345 240.8,345.34 241.5,345.51 242.2,345.56 242.9,345.46 243.6,345.65 244.3,345.9 245,346.61 245.7,345.96 246.4,346.3 247.1,347.17 247.8,346.76 248.5,346.74 249.2,346.9 249.9,347.72 250.6,347.64 251.3,348.63 252,348.71 252.7,349.03 253.4,348.36 254.1,348.35 254.8,348.56 255.5,349.26 256.2,349.75 256.9,349.67 257.6,349.65 258.3,350.1 259,350.58 259.7,350.88 260.4,351.2 261.1,351.55 261.8,351.56 262.5,351.15 263.2,352.24 263.9,351.82 264.6,352.38 265.3,352.38 266,353.05" fill="none" stroke-width="0.9" stroke-linejoin="round" stroke="#333"/>
<polyline points="160.5,319 163,322.5 166,326.4 168.5,323.2 170.5,322.4" fill="none" stroke-width="1.3" stroke-linejoin="round" stroke="#000"/>
<polyline points="318.6,372 319.1,394.7 319.6,372" fill="none" stroke-width="0.9" stroke-linejoin="round" stroke="#444"/>
<line x1="165.8" y1="290.5" x2="165.8" y2="300.6" stroke="#000" stroke-width="1.5"/>
<polygon points="165.8,286.4 163.3,291 168.3,291" fill="#000"/>
<line x1="166" y1="333.5" x2="166" y2="342.8" stroke="#000" stroke-width="1.5"/>
<polygon points="166,329.2 163.5,334 168.5,334" fill="#000"/>
<g stroke="#000" stroke-width="1" stroke-dasharray="1.4,1.1">
<line x1="88.6" y1="353.1" x2="139" y2="312.6" stroke-width="1"/>
<line x1="217" y1="353.1" x2="202" y2="331.3" stroke-width="1"/>
</g>
<rect x="88.6" y="353.1" width="128.4" height="73.9" fill="#fff" stroke="#000" stroke-width="1.4"/>
<g stroke="#000" fill="none">
<line x1="88.6" y1="427" x2="88.6" y2="430.5" stroke-width="1.1"/>
<line x1="88.6" y1="353.1" x2="88.6" y2="356.6" stroke-width="1.1"/>
<line x1="110" y1="427" x2="110" y2="429.2" stroke-width="1.1"/>
<line x1="110" y1="353.1" x2="110" y2="355.3" stroke-width="1.1"/>
<line x1="131.4" y1="427" x2="131.4" y2="430.5" stroke-width="1.1"/>
<line x1="131.4" y1="353.1" x2="131.4" y2="356.6" stroke-width="1.1"/>
<line x1="152.8" y1="427" x2="152.8" y2="429.2" stroke-width="1.1"/>
<line x1="152.8" y1="353.1" x2="152.8" y2="355.3" stroke-width="1.1"/>
<line x1="174.2" y1="427" x2="174.2" y2="430.5" stroke-width="1.1"/>
<line x1="174.2" y1="353.1" x2="174.2" y2="356.6" stroke-width="1.1"/>
<line x1="195.6" y1="427" x2="195.6" y2="429.2" stroke-width="1.1"/>
<line x1="195.6" y1="353.1" x2="195.6" y2="355.3" stroke-width="1.1"/>
<line x1="217" y1="427" x2="217" y2="430.5" stroke-width="1.1"/>
<line x1="217" y1="353.1" x2="217" y2="356.6" stroke-width="1.1"/>
<line x1="86.4" y1="363.5" x2="88.6" y2="363.5" stroke-width="1"/>
<line x1="214.8" y1="363.5" x2="217" y2="363.5" stroke-width="1"/>
<line x1="86.4" y1="377.5" x2="88.6" y2="377.5" stroke-width="1"/>
<line x1="214.8" y1="377.5" x2="217" y2="377.5" stroke-width="1"/>
<line x1="86.4" y1="398" x2="88.6" y2="398" stroke-width="1"/>
<line x1="214.8" y1="398" x2="217" y2="398" stroke-width="1"/>
</g>
<polyline points="88.8,355.8 89.8,356.51 90.8,357.23 91.8,357.94 92.8,358.36 93.8,358.93 94.8,359.41 95.8,359.8 96.8,361.01 97.8,361.18 98.8,361.25 99.8,361.59 100.8,362.46 101.8,362.25 102.8,362.29 103.8,363.18 104.8,363.35 105.8,364.01 106.8,363.44 107.8,364.21 108.8,364.98 109.8,365.43 110.8,365.93 111.8,365.44 112.8,366.08 113.8,366.28 114.8,366.73 115.8,367.9 116.8,367.98 117.8,368.83 118.8,368.77 119.8,369.77 120.8,369.99 121.8,370.48 122.8,371.68 123.8,372.53 124.8,372.37 125.8,373.54 126.8,374.24 127.8,374.52 128.8,375.35 129.8,375.81 130.8,376.94 131.8,378.15 132.8,379.67 133.8,380.88 134.8,381.6 135.8,382.91 136.8,385.23 137.8,387.58 138.8,389.09 139.8,391.61 140.8,394 141.8,396.8 142.8,399.33 143.8,401.96 144.8,404.6 145.8,407.24 146.8,405.31 147.8,402.89 148.8,400.8 149.8,398.8 150.8,396.8 151.8,395.66 152.8,394.5 153.8,392.86 154.8,392.75 155.8,393.27 156.8,393.51 157.8,393.84 158.8,392.94 159.8,393.29 160.8,394.55 161.8,394.37 162.8,394.94 163.8,395.81 164.8,397.92 165.8,397.46 166.8,398.62 167.8,398.81 168.8,399.54 169.8,401.05 170.8,401.93 171.8,401.27 172.8,401.55 173.8,403.3 174.8,402.99 175.8,403.34 176.8,405.87 177.8,405.65 178.8,407.18 179.8,407.09 180.8,408.75 181.8,408.53 182.8,408.56 183.8,408.89 184.8,410.59 185.8,411.39 186.8,412.56 187.8,411.52 188.8,413.03 189.8,412.96 190.8,413.67 191.8,413.39 192.8,414.1 193.8,415.02 194.8,416.26 195.8,414.93 196.8,415.95 197.8,416.84 198.8,417.42 199.8,416.14 200.8,416.49 201.8,418.66 202.8,419.26 203.8,418.82 204.8,418.5 205.8,420.75 206.8,420.18 207.8,421.71 208.8,421.64 209.8,422.55 210.8,421.64 211.8,423.29 212.8,422.56 213.8,423.33 214.8,424.03 215.8,422.47 216,421.5" fill="none" stroke-width="1.25" stroke-linejoin="round" stroke="#111"/>
<line x1="145.9" y1="413.1" x2="145.9" y2="423.8" stroke="#000" stroke-width="1.5"/>
<polygon points="145.9,409.8 143.4,413.6 148.4,413.6" fill="#000"/>
<g>
<text x="3.8" y="10.7" font-size="14.5" text-anchor="start" font-weight="bold">(a)</text>
<text x="49.3" y="199.9" font-size="12" text-anchor="end" font-weight="normal" letter-spacing="0.5" stroke="#000" stroke-width="0.4">0</text>
<text x="49.3" y="171.49" font-size="12" text-anchor="end" font-weight="normal" letter-spacing="0.5" stroke="#000" stroke-width="0.4">5</text>
<text x="49.3" y="143.07" font-size="12" text-anchor="end" font-weight="normal" letter-spacing="0.5" stroke="#000" stroke-width="0.4">10</text>
<text x="49.3" y="114.66" font-size="12" text-anchor="end" font-weight="normal" letter-spacing="0.5" stroke="#000" stroke-width="0.4">15</text>
<text x="49.3" y="86.24" font-size="12" text-anchor="end" font-weight="normal" letter-spacing="0.5" stroke="#000" stroke-width="0.4">20</text>
<text x="49.3" y="57.83" font-size="12" text-anchor="end" font-weight="normal" letter-spacing="0.5" stroke="#000" stroke-width="0.4">25</text>
<text x="49.3" y="29.41" font-size="12" text-anchor="end" font-weight="normal" letter-spacing="0.5" stroke="#000" stroke-width="0.4">30</text>
<text x="67.5" y="218.6" font-size="12" text-anchor="middle" font-weight="normal" letter-spacing="0.6" stroke="#000" stroke-width="0.4">0</text>
<text x="118.6" y="218.6" font-size="12" text-anchor="middle" font-weight="normal" letter-spacing="0.6" stroke="#000" stroke-width="0.4">100</text>
<text x="169.7" y="218.6" font-size="12" text-anchor="middle" font-weight="normal" letter-spacing="0.6" stroke="#000" stroke-width="0.4">200</text>
<text x="220.8" y="218.6" font-size="12" text-anchor="middle" font-weight="normal" letter-spacing="0.6" stroke="#000" stroke-width="0.4">300</text>
<text x="271.9" y="218.6" font-size="12" text-anchor="middle" font-weight="normal" letter-spacing="0.6" stroke="#000" stroke-width="0.4">400</text>
<text x="323" y="218.6" font-size="12" text-anchor="middle" font-weight="normal" letter-spacing="0.6" stroke="#000" stroke-width="0.4">500</text>
<text x="198.6" y="236.9" font-size="13.4" text-anchor="middle" font-weight="bold">Time (ps)</text>
<text x="15" y="85.15" font-size="13.8" text-anchor="middle" font-weight="bold" transform="rotate(-90 15 85.15)">Photocurrent (nA)</text>
<text x="161" y="42.3" font-size="10.2" text-anchor="end" font-weight="bold" letter-spacing="1.5">10</text>
<text x="159.2" y="78.4" font-size="10.2" text-anchor="end" font-weight="bold">1</text>
<text x="161" y="107.6" font-size="10.2" text-anchor="end" font-weight="bold" letter-spacing="1.5">10</text>
<text x="157.4" y="143.9" font-size="10.2" text-anchor="end" font-weight="bold">1</text>
<text x="166.3" y="164" font-size="11" text-anchor="middle" font-weight="bold" letter-spacing="0.8">0</text>
<text x="200.2" y="164" font-size="11" text-anchor="middle" font-weight="bold" letter-spacing="0.8">10</text>
<text x="234.1" y="164" font-size="11" text-anchor="middle" font-weight="bold" letter-spacing="0.8">20</text>
<text x="268" y="164" font-size="11" text-anchor="middle" font-weight="bold" letter-spacing="0.8">30</text>
<text x="301.9" y="164" font-size="11" text-anchor="middle" font-weight="bold" letter-spacing="0.8">40</text>
<text x="239.5" y="179.5" font-size="12.8" text-anchor="middle" font-weight="bold">Time (ps)</text>
<text x="135.5" y="82.65" font-size="13" text-anchor="middle" font-weight="bold" transform="rotate(-90 135.5 82.65)">Photocurrent (nA)</text>
<text x="244.05" y="40.3" font-size="13.6" text-anchor="middle" font-weight="bold">reference</text>
<text x="237.05" y="109.5" font-size="13.9" text-anchor="middle" font-weight="bold">lactose</text>
<text x="3.8" y="251.3" font-size="14.5" text-anchor="start" font-weight="bold">(b)</text>
<text x="46" y="274.1" font-size="12" text-anchor="end" font-weight="normal" stroke="#000" stroke-width="0.45" letter-spacing="0.8">10</text>
<text x="46.8" y="267.5" font-size="7" text-anchor="start" font-weight="normal" stroke="#000" stroke-width="0.4">3</text>
<text x="46" y="338.1" font-size="12" text-anchor="end" font-weight="normal" stroke="#000" stroke-width="0.45" letter-spacing="0.8">10</text>
<text x="46.8" y="331.5" font-size="7" text-anchor="start" font-weight="normal" stroke="#000" stroke-width="0.4">1</text>
<text x="42.6" y="402.2" font-size="12" text-anchor="end" font-weight="normal" stroke="#000" stroke-width="0.45" letter-spacing="0.8">10</text>
<text x="42.6" y="395.8" font-size="7" text-anchor="start" font-weight="normal" stroke="#000" stroke-width="0.4">-1</text>
<text x="42.6" y="466.2" font-size="12" text-anchor="end" font-weight="normal" stroke="#000" stroke-width="0.45" letter-spacing="0.8">10</text>
<text x="42.6" y="459.8" font-size="7" text-anchor="start" font-weight="normal" stroke="#000" stroke-width="0.4">-3</text>
<text x="57.85" y="479.8" font-size="12" text-anchor="middle" font-weight="normal" letter-spacing="0.5" stroke="#000" stroke-width="0.4">0.0</text>
<text x="98.77" y="479.8" font-size="12" text-anchor="middle" font-weight="normal" letter-spacing="0.5" stroke="#000" stroke-width="0.4">0.2</text>
<text x="139.69" y="479.8" font-size="12" text-anchor="middle" font-weight="normal" letter-spacing="0.5" stroke="#000" stroke-width="0.4">0.4</text>
<text x="180.61" y="479.8" font-size="12" text-anchor="middle" font-weight="normal" letter-spacing="0.5" stroke="#000" stroke-width="0.4">0.6</text>
<text x="221.53" y="479.8" font-size="12" text-anchor="middle" font-weight="normal" letter-spacing="0.5" stroke="#000" stroke-width="0.4">0.8</text>
<text x="262.45" y="479.8" font-size="12" text-anchor="middle" font-weight="normal" letter-spacing="0.5" stroke="#000" stroke-width="0.4">1.0</text>
<text x="303.37" y="479.8" font-size="12" text-anchor="middle" font-weight="normal" letter-spacing="0.5" stroke="#000" stroke-width="0.4">1.2</text>
<text x="201.4" y="497" font-size="13.5" text-anchor="middle" font-weight="bold">Frequency (THz)</text>
<text x="10" y="343.6" font-size="13.5" text-anchor="middle" font-weight="bold" transform="rotate(-90 10 343.6)">Amplitude (a.u.)</text>
<text x="241.7" y="292.9" font-size="12.2" text-anchor="middle" font-weight="bold">free-space</text>
<text x="239.9" y="330.7" font-size="12" text-anchor="middle" font-weight="bold">microstrip</text>
<text x="89.2" y="444.2" font-size="11.5" text-anchor="middle" font-weight="bold" letter-spacing="0.7">0.4</text>
<text x="132" y="444.2" font-size="11.5" text-anchor="middle" font-weight="bold" letter-spacing="0.7">0.5</text>
<text x="174.8" y="444.2" font-size="11.5" text-anchor="middle" font-weight="bold" letter-spacing="0.7">0.6</text>
<text x="217.6" y="444.2" font-size="11.5" text-anchor="middle" font-weight="bold" letter-spacing="0.7">0.7</text>
<text x="155" y="456.8" font-size="11.8" text-anchor="middle" font-weight="bold">Frequency (THz)</text>
<text x="72.4" y="386.5" font-size="11.4" text-anchor="middle" font-weight="bold" transform="rotate(-90 72.4 386.5)">Amplitude (a.u.)</text>
</g>
</svg>
</body></html>
